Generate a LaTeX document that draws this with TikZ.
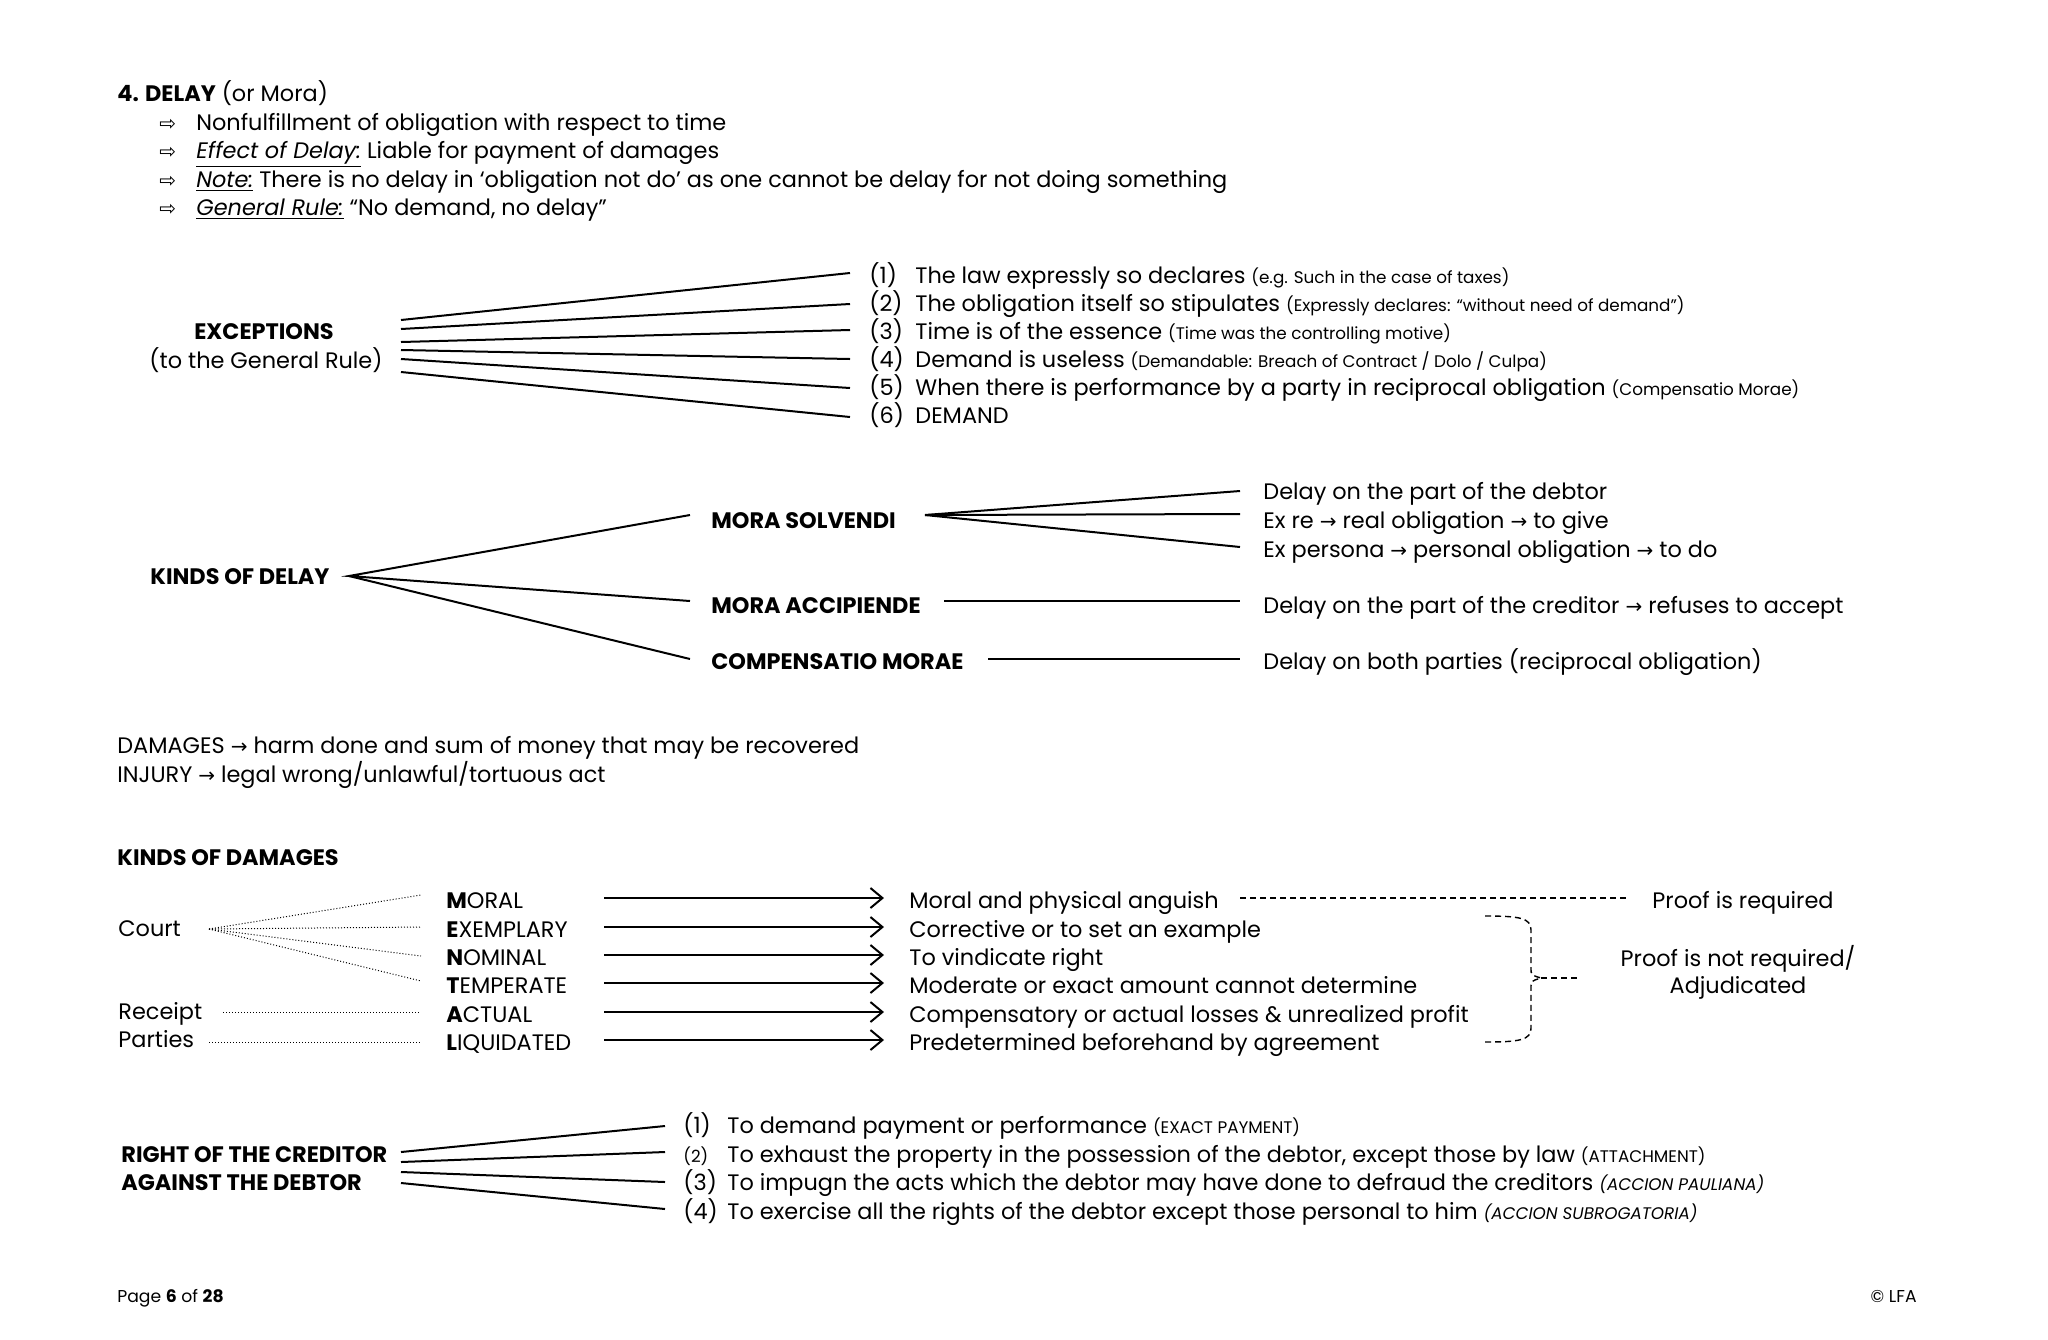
\documentclass[tikz,border=0pt]{standalone}
\usepackage{fontspec}
\setmainfont{Poppins}
\newfontfamily\sym{DejaVu Sans}
\usetikzlibrary{arrows.meta,calc}
\newcommand\fmain{\fontsize{11.2}{13}\selectfont}
\newcommand\fsmall{\fontsize{8.4}{10}\selectfont}
\newcommand\ffoot{\fontsize{8.6}{10}\selectfont}
\newcommand\ra{{\sym\fontsize{10}{11}\selectfont →}}
\begin{document}
\begin{tikzpicture}[x=0.5pt,y=-0.5pt,
  txt/.style={anchor=base west,inner sep=0pt,font=\fmain},
  ctxt/.style={anchor=base,inner sep=0pt,font=\fmain},
  bul/.style={anchor=base west,inner sep=0pt,font=\sym\fontsize{10}{11}\selectfont},
  link/.style={line width=1pt},
  dotlink/.style={line width=0.5pt,densely dotted},
  arr/.style={line width=1pt,-{Straight Barb[length=6pt,width=10pt,line width=1pt]}},
  dashlink/.style={line width=0.7pt,dash pattern=on 3pt off 2pt}]
\useasboundingbox (0,0) rectangle (2048,1339);

% header
\node[txt] (h0) at (117,101) {\textbf{4. DELAY} (or Mora)};
\node[bul] (b1) at (159,130) {⇨};
\node[txt] (t1) at (196,130) {Nonfulfillment of obligation with respect to time};
\node[bul] (b2) at (159,158) {⇨};
\node[txt] (t2) at (196,158) {\underline{\textit{Effect of Delay:}} Liable for payment of damages};
\node[bul] (b3) at (159,187) {⇨};
\node[txt] (t3) at (196,187) {\underline{\textit{Note:}} There is no delay in ‘obligation not do’ as one cannot be delay for not doing something};
\node[bul] (b4) at (159,215) {⇨};
\node[txt] (t4) at (196,215) {\underline{\textit{General Rule:}} “No demand, no delay”};

% exceptions
\node[ctxt] (exc) at (264,339) {\textbf{EXCEPTIONS}};
\node[ctxt] (exc2) at (266,368) {(to the General Rule)};
\foreach \i/\ly/\ry/\by in {1/320/273/283,2/329/304/311,3/342/330/339,4/350/359/367,5/359/388/395,6/372/417/423}{
  \coordinate (el\i) at (401,\ly);
  \coordinate (er\i) at (850,\ry);
  \node[txt] (en\i) at (869,\by) {(\i)};
}
\node[txt] (ei1) at (915,283) {The law expressly so declares {\fsmall (e.g. Such in the case of taxes)}};
\node[txt] (ei2) at (915,311) {The obligation itself so stipulates {\fsmall (Expressly declares: “without need of demand”)}};
\node[txt] (ei3) at (915,339) {Time is of the essence {\fsmall (Time was the controlling motive)}};
\node[txt] (ei4) at (915,367) {Demand is useless {\fsmall (Demandable: Breach of Contract / Dolo / Culpa)}};
\node[txt] (ei5) at (915,395) {When there is performance by a party in reciprocal obligation {\fsmall (Compensatio Morae)}};
\node[txt] (ei6) at (915,423) {DEMAND};
\foreach \i in {1,...,6}{\draw[link] (el\i) -- (er\i);}

% kinds of delay
\node[txt] (kd) at (150,584) {\textbf{KINDS OF DELAY}};
\coordinate (kda) at (349,576);
\node[txt] (ms) at (711,528) {\textbf{MORA SOLVENDI}};
\node[txt] (ma) at (711,613) {\textbf{MORA ACCIPIENDE}};
\node[txt] (cm) at (711,669) {\textbf{COMPENSATIO MORAE}};
\coordinate (msl) at (690,515);
\coordinate (mal) at (690,601);
\coordinate (cml) at (690,659);
\draw[link] (msl) -- (kda) -- (mal);
\draw[link] (kda) -- (cml);
\coordinate (msa) at (925,515);
\coordinate (s1) at (1240,491);
\coordinate (s2) at (1240,514);
\coordinate (s3) at (1240,547);
\draw[link] (s1) -- (msa) -- (s3);
\draw[link] (msa) -- (s2);
\node[txt] (d1) at (1263,499) {Delay on the part of the debtor};
\node[txt] (d2) at (1263,528) {Ex re \ra{} real obligation \ra{} to give};
\node[txt] (d3) at (1263,557) {Ex persona \ra{} personal obligation \ra{} to do};
\node[txt] (d4) at (1263,613) {Delay on the part of the creditor \ra{} refuses to accept};
\node[txt] (d5) at (1263,669) {Delay on both parties (reciprocal obligation)};
\coordinate (mar) at (944,601);
\coordinate (d4l) at (1240,601);
\coordinate (cmr) at (988,659);
\coordinate (d5l) at (1240,659);
\draw[link] (mar) -- (d4l);
\draw[link] (cmr) -- (d5l);

% damages
\node[txt] (dm1) at (117,753) {DAMAGES \ra{} harm done and sum of money that may be recovered};
\node[txt] (dm2) at (117,782) {INJURY \ra{} legal wrong/unlawful/tortuous act};
\node[txt] (kdm) at (117,865) {\textbf{KINDS OF DAMAGES}};

\node[txt] (court) at (118,936) {Court};
\node[txt] (rec) at (118,1019) {Receipt};
\node[txt] (par) at (118,1047) {Parties};
\coordinate (ca) at (209,929);
\foreach \y/\n in {895/1,927/2,956/3,981/4}{\coordinate (cd\n) at (421,\y); \draw[dotlink] (ca) -- (cd\n);}
\coordinate (ra) at (223,1012); \coordinate (rb) at (421,1012);
\coordinate (pa) at (209,1042); \coordinate (pb) at (421,1042);
\draw[dotlink] (ra) -- (rb);
\draw[dotlink] (pa) -- (pb);

\foreach \n/\y/\k/\d in {1/908/\textbf{M}ORAL/Moral and physical anguish,
  2/937/\textbf{E}XEMPLARY/Corrective or to set an example,
  3/965/\textbf{N}OMINAL/To vindicate right,
  4/993/\textbf{T}EMPERATE/Moderate or exact amount cannot determine,
  5/1022/\textbf{A}CTUAL/Compensatory or actual losses \& unrealized profit,
  6/1050/\textbf{L}IQUIDATED/Predetermined beforehand by agreement}{
  \node[txt] (k\n) at (446,\y) {\k};
  \node[txt] (kt\n) at (909,\y) {\d};
  \coordinate (ka\n) at (604,\y-10);
  \coordinate (kb\n) at (884,\y-10);
  \draw[arr] (ka\n) -- (kb\n);
}
\coordinate (dsh1) at (1240,898);
\coordinate (dsh2) at (1626,898);
\draw[dashlink] (dsh1) -- (dsh2);
\node[txt] (pr) at (1652,908) {Proof is required};
\coordinate (bt) at (1485,916);
\coordinate (bb) at (1485,1042);
\coordinate (btip) at (1541,978);
\coordinate (bend) at (1578,978);
\draw[dashlink] (bt) .. controls (1520,916) and (1531,918) .. (1531,930) -- (1531,968)
  .. controls (1531,975) .. (btip) .. controls (1531,981) .. (1531,988) -- (1531,1028)
  .. controls (1531,1040) and (1520,1042) .. (bb);
\draw[dashlink] (btip) -- (bend);
\node[ctxt] (pnr) at (1738,966) {Proof is not required/};
\node[ctxt] (adj) at (1738,993) {Adjudicated};

% right of creditor
\node[txt] (rc1) at (121,1162) {\textbf{RIGHT OF THE CREDITOR}};
\node[txt] (rc2) at (121,1190) {\textbf{AGAINST THE DEBTOR}};
\foreach \i/\ly/\ry in {1/1152/1126,2/1162/1152,3/1172/1182,4/1183/1209}{
  \coordinate (rl\i) at (401,\ly);
  \coordinate (rr\i) at (665,\ry);
  \draw[link] (rl\i) -- (rr\i);
}
\node[txt] (rn1) at (683,1133) {(1)};
\node[txt] (rn2) at (683,1162) {\fsmall (2)};
\node[txt] (rn3) at (683,1190) {(3)};
\node[txt] (rn4) at (683,1219) {(4)};
\node[txt] (ri1) at (727,1133) {To demand payment or performance {\fsmall (EXACT PAYMENT)}};
\node[txt] (ri2) at (727,1162) {To exhaust the property in the possession of the debtor, except those by law {\fsmall (ATTACHMENT)}};
\node[txt] (ri3) at (727,1190) {To impugn the acts which the debtor may have done to defraud the creditors {\fsmall\itshape (ACCION PAULIANA)}};
\node[txt] (ri4) at (727,1219) {To exercise all the rights of the debtor except those personal to him {\fsmall\itshape (ACCION SUBROGATORIA)}};

% footer
\node[anchor=base west,inner sep=0pt,font=\ffoot] (pg) at (117,1302) {Page \textbf{6} of \textbf{28}};
\node[anchor=base east,inner sep=0pt,font=\ffoot] (lfa) at (1917,1302) {© LFA};
\end{tikzpicture}
\end{document}
